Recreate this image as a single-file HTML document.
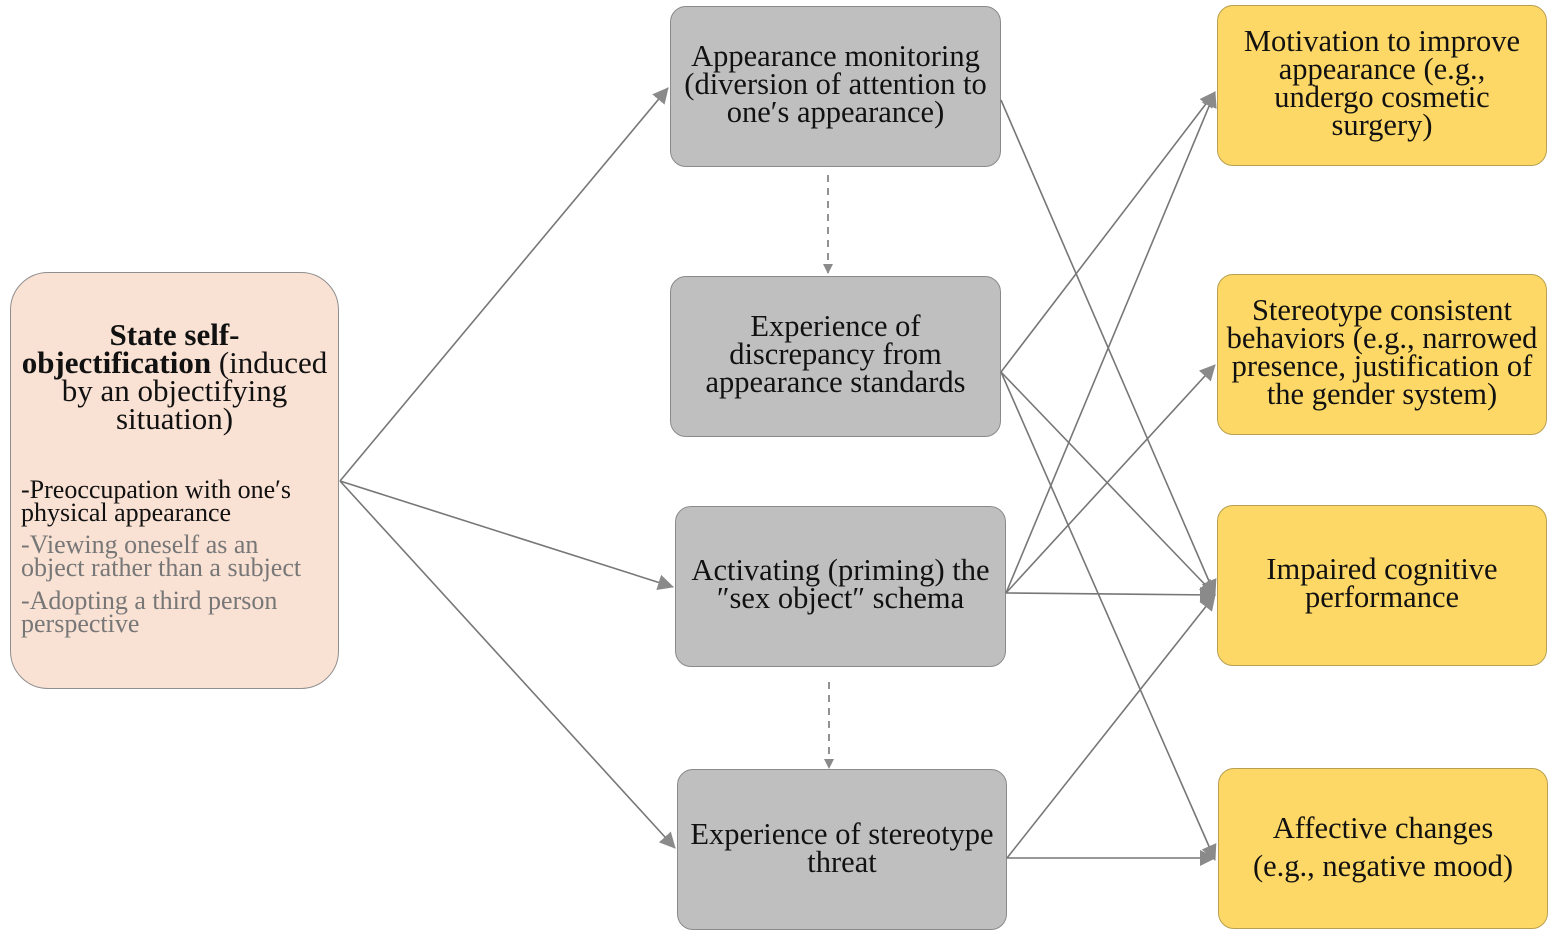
<!DOCTYPE html>
<html><head><style>
body{margin:0;width:1552px;height:937px;background:#fff;position:relative;overflow:hidden;font-family:"Liberation Serif",serif;}
.b{position:absolute;box-sizing:border-box;display:flex;flex-direction:column;justify-content:center;align-items:center;text-align:center;font-size:30.5px;line-height:28px;color:#111;white-space:nowrap;}
.g{background:#bfbfbf;border:1.5px solid #8a8a8a;border-radius:16px;}
.y{background:#fdd866;border:1.5px solid #b8a050;border-radius:16px;}
</style></head><body>
<div class="b" style="left:10px;top:272px;width:329px;height:417px;background:#f9e1d4;border:1.5px solid #8f8f8f;border-radius:38px;justify-content:flex-start;padding-top:48px;">
<div style="font-size:31px;line-height:28px;"><b>State self-<br>objectification</b> (induced<br>by an objectifying<br>situation)</div>
<div style="text-align:left;align-self:flex-start;padding-left:10px;margin-top:45px;font-size:26px;line-height:23px;">
<div>-Preoccupation with one′s<br>physical appearance</div>
<div style="color:#777;margin-top:9px;">-Viewing oneself as an<br>object rather than a subject</div>
<div style="color:#777;margin-top:10px;">-Adopting a third person<br>perspective</div></div></div>
<div class="b g" style="left:670px;top:6px;width:331px;height:161px;padding-bottom:6px;">Appearance monitoring<br>(diversion of attention to<br>one′s appearance)</div>
<div class="b g" style="left:670px;top:276px;width:331px;height:161px;padding-bottom:6px;">Experience of<br>discrepancy from<br>appearance standards</div>
<div class="b g" style="left:675px;top:506px;width:331px;height:161px;padding-bottom:6px;">Activating (priming) the<br>″sex object″ schema</div>
<div class="b g" style="left:677px;top:769px;width:330px;height:161px;padding-bottom:4px;">Experience of stereotype<br>threat</div>
<div class="b y" style="left:1217px;top:5px;width:330px;height:161px;padding-bottom:6px;">Motivation to improve<br>appearance (e.g.,<br>undergo cosmetic<br>surgery)</div>
<div class="b y" style="left:1217px;top:274px;width:330px;height:161px;padding-bottom:6px;">Stereotype consistent<br>behaviors (e.g., narrowed<br>presence, justification of<br>the gender system)</div>
<div class="b y" style="left:1217px;top:505px;width:330px;height:161px;padding-bottom:6px;">Impaired cognitive<br>performance</div>
<div class="b y" style="left:1218px;top:768px;width:330px;height:161px;line-height:38px;padding-bottom:4px;">Affective changes<br>(e.g., negative mood)</div>
<svg width="1552" height="937" style="position:absolute;left:0;top:0">
<defs><marker id="a" markerWidth="10" markerHeight="10" refX="9" refY="5" orient="auto" markerUnits="userSpaceOnUse" viewBox="0 0 10 10"><path d="M0,0L10,5L0,10z" fill="#8a8a8a"/></marker>
<marker id="b" markerWidth="16" markerHeight="16" refX="15" refY="8" orient="auto" markerUnits="userSpaceOnUse" viewBox="0 0 16 16"><path d="M0,0L16,8L0,16z" fill="#8a8a8a"/></marker></defs>
<g stroke="#777" stroke-width="1.6" fill="none">
<line x1="340" y1="481" x2="668" y2="88" marker-end="url(#b)"/>
<line x1="340" y1="481" x2="673" y2="587" marker-end="url(#b)"/>
<line x1="340" y1="481" x2="675" y2="848" marker-end="url(#b)"/>
<line x1="828" y1="175" x2="828" y2="273" stroke-dasharray="7,6" marker-end="url(#a)"/>
<line x1="829" y1="682" x2="829" y2="768" stroke-dasharray="7,6" marker-end="url(#a)"/>
<line x1="1001" y1="100" x2="1215" y2="595" marker-end="url(#b)"/>
<line x1="1001" y1="372" x2="1215" y2="92" marker-end="url(#b)"/>
<line x1="1001" y1="372" x2="1215" y2="595" marker-end="url(#b)"/>
<line x1="1001" y1="372" x2="1215" y2="860" marker-end="url(#b)"/>
<line x1="1006" y1="593" x2="1215" y2="92" marker-end="url(#b)"/>
<line x1="1006" y1="593" x2="1215" y2="365" marker-end="url(#b)"/>
<line x1="1006" y1="593" x2="1215" y2="595" marker-end="url(#b)"/>
<line x1="1007" y1="858" x2="1215" y2="595" marker-end="url(#b)"/>
<line x1="1007" y1="858" x2="1215" y2="858" marker-end="url(#b)"/>
</g></svg>
</body></html>
